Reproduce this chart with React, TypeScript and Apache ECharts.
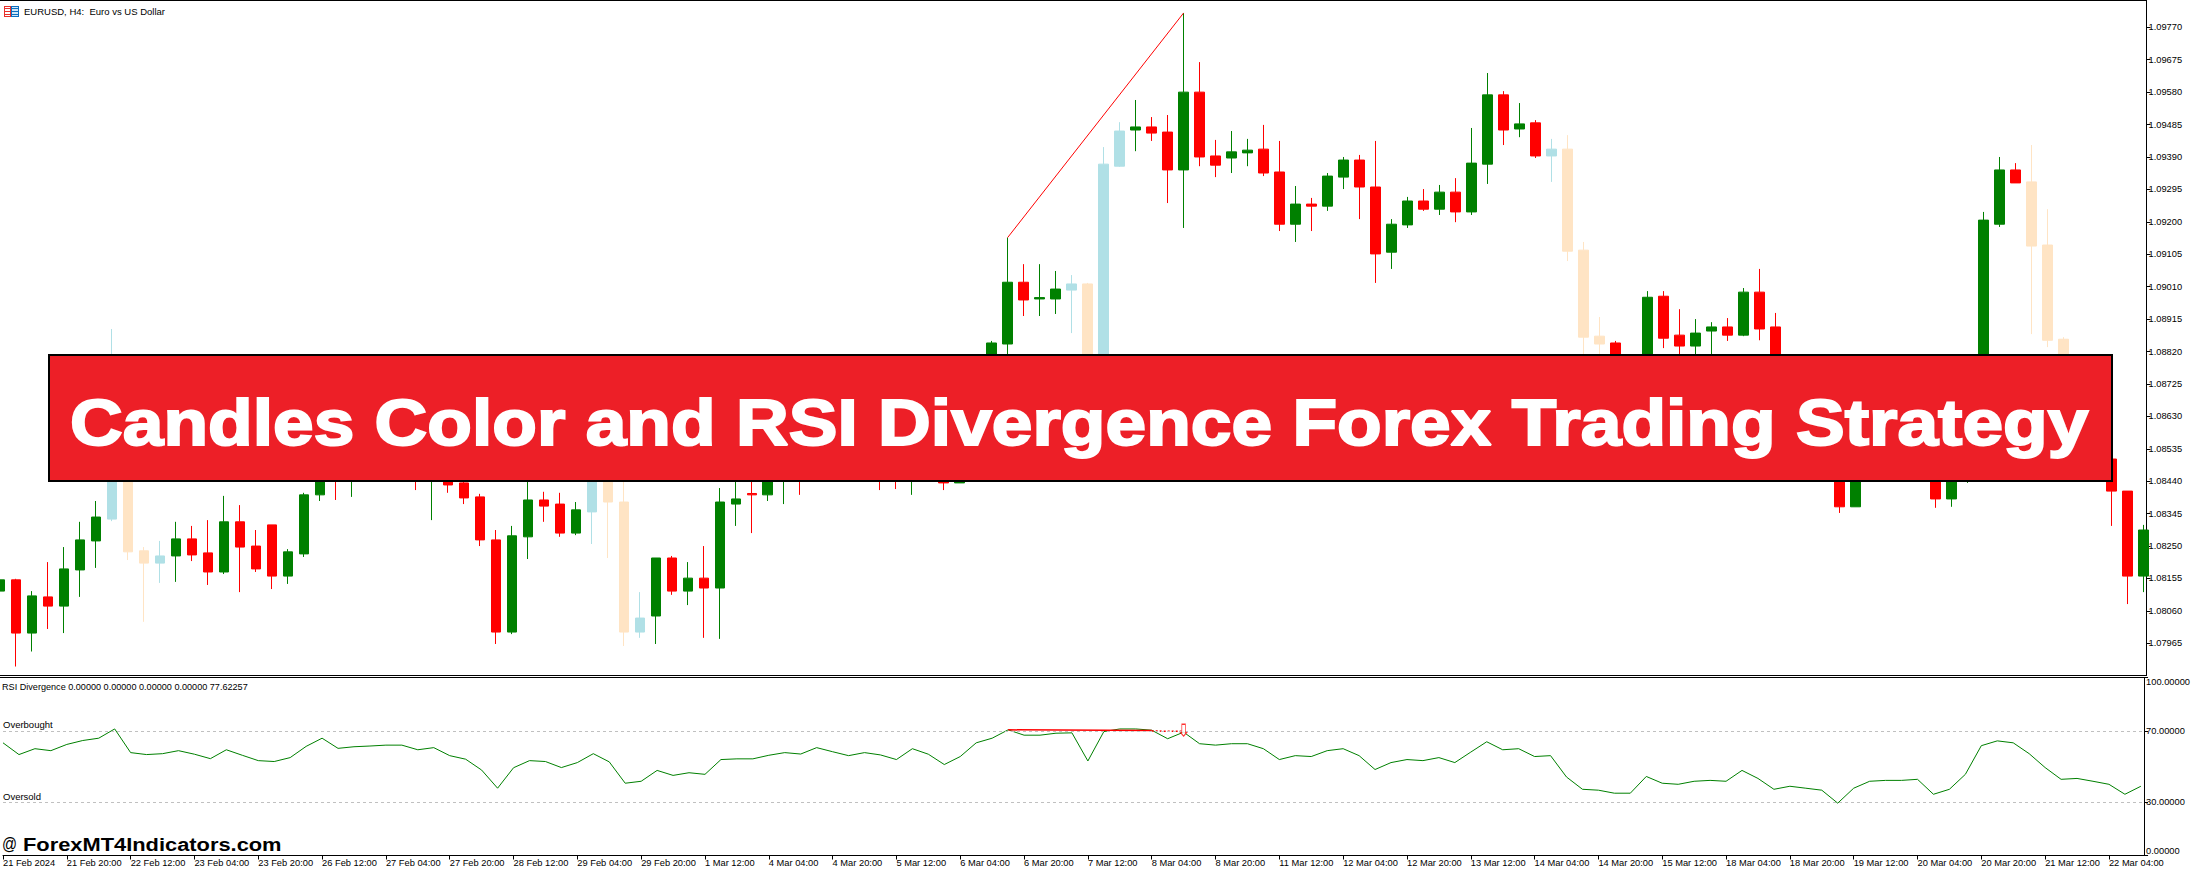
import { useEffect, useRef } from "react";
import * as echarts from "echarts";

const kinds = [
  "g","r","g","r","g","g","g","b","o","o",
  "b","g","r","r","g","r","r","r","g","g",
  "g","r","g","r","g","r","r","g","r","r",
  "r","r","g","g","r","r","g","b","o","o",
  "b","g","r","g","r","g","g","r","g","g",
  "r","g","r","g","r","r","r","g","r","r",
  "g","g","g","g","r","g","g","b","o","b",
  "b","g","r","r","g","r","r","g","g","r",
  "r","g","r","g","g","r","r","g","g","r",
  "g","r","g","g","r","g","r","b","o","o",
  "o","r","r","g","r","r","g","g","r","g",
  "r","r","r","g","r","r","g","g","r","g",
  "r","r","g","g","g","g","r","o","o","o",
  "o","r","r","r","g",
];

const opens = [1.08118,1.08151,1.07995,1.08101,1.08074,1.0818,1.08265,1.08329,1.08555,1.08236,1.082,1.08221,1.08271,1.0823,1.08174,1.08321,1.0825,1.08312,1.08162,1.08227,1.084,1.0856,1.0848,1.0856,1.0851,1.0857,1.0852,1.0847,1.0853,1.08435,1.08394,1.08268,1.07998,1.08277,1.08385,1.08373,1.08288,1.0835,1.0856,1.08379,1.07998,1.08045,1.08215,1.08118,1.08156,1.08127,1.08373,1.08404,1.084,1.0847,1.0852,1.0847,1.0851,1.0848,1.0853,1.0849,1.0848,1.08445,1.0849,1.08445,1.08435,1.0845,1.0852,1.08842,1.09023,1.08974,1.08974,1.09,1.09018,1.0868,1.09363,1.09469,1.09478,1.09463,1.09352,1.0958,1.09393,1.09387,1.09402,1.09413,1.09346,1.09193,1.09252,1.09246,1.09331,1.09381,1.09302,1.09111,1.09191,1.09261,1.09237,1.09287,1.09229,1.09369,1.09572,1.09472,1.0949,1.09393,1.09413,1.09117,1.08865,1.08845,1.0878,1.087,1.08982,1.08868,1.08836,1.0888,1.08892,1.08868,1.08994,1.08892,1.0876,1.0868,1.0872,1.0856,1.08365,1.0852,1.086,1.0854,1.0859,1.0853,1.08388,1.0851,1.0862,1.09193,1.09352,1.09317,1.09132,1.08856,1.0872,1.0862,1.08505,1.08411,1.08162];
const closes = [1.08151,1.07995,1.08104,1.08074,1.08183,1.08268,1.08335,1.08561,1.08233,1.082,1.08221,1.08271,1.08224,1.08174,1.08321,1.08247,1.08183,1.08162,1.08233,1.084,1.08546,1.0849,1.0856,1.0851,1.0857,1.0852,1.0847,1.0853,1.08429,1.08391,1.08268,1.07998,1.0828,1.08385,1.08367,1.08288,1.08356,1.0856,1.08379,1.07998,1.08039,1.08215,1.08118,1.08156,1.08127,1.08379,1.08388,1.084,1.0847,1.0852,1.0847,1.0851,1.0848,1.0853,1.0849,1.0845,1.08445,1.0849,1.0846,1.08435,1.0845,1.0851,1.08845,1.09023,1.08971,1.08978,1.09003,1.09018,1.087,1.09369,1.09466,1.09478,1.0946,1.09352,1.0958,1.0939,1.09366,1.09405,1.0941,1.09343,1.09193,1.09252,1.09246,1.09334,1.09381,1.09302,1.09106,1.09193,1.09261,1.09237,1.09287,1.09229,1.09372,1.09572,1.09469,1.09487,1.09393,1.09413,1.09114,1.08862,1.08842,1.0878,1.087,1.08979,1.08859,1.08836,1.08874,1.08892,1.08868,1.08994,1.08886,1.0876,1.0868,1.0872,1.0856,1.08365,1.0852,1.086,1.0854,1.0859,1.0853,1.08388,1.0851,1.0862,1.09205,1.09352,1.09314,1.09129,1.08853,1.0872,1.0862,1.08505,1.08411,1.08162,1.08297];
const lows = [1.08105,1.07897,1.07941,1.08007,1.07995,1.08101,1.08186,1.08323,1.08209,1.08028,1.08142,1.08145,1.08206,1.08136,1.08168,1.08115,1.08174,1.08124,1.08139,1.08218,1.08382,1.08385,1.08394,1.0846,1.0847,1.0847,1.08414,1.08326,1.08406,1.08373,1.0825,1.07963,1.07992,1.08212,1.08321,1.08277,1.08282,1.08256,1.08215,1.07957,1.07981,1.07963,1.08107,1.08077,1.07981,1.07978,1.08309,1.08288,1.08382,1.08373,1.084,1.0845,1.0845,1.0846,1.0846,1.08414,1.08417,1.084,1.08445,1.08414,1.08435,1.08445,1.085,1.0878,1.08924,1.08924,1.0893,1.08874,1.0866,1.0864,1.09361,1.09407,1.09437,1.09255,1.09182,1.09363,1.09331,1.09343,1.09363,1.09334,1.09173,1.09141,1.09173,1.09232,1.09296,1.09208,1.09021,1.09062,1.09182,1.09232,1.0922,1.09199,1.0922,1.09311,1.09425,1.09448,1.09387,1.09317,1.09085,1.0878,1.0879,1.0874,1.0866,1.0867,1.0883,1.0881,1.088,1.0879,1.08851,1.08865,1.08853,1.0872,1.0864,1.0865,1.0852,1.08347,1.08365,1.0849,1.085,1.0851,1.0849,1.08362,1.08365,1.08435,1.0859,1.09185,1.09314,1.08871,1.08833,1.0868,1.0858,1.0846,1.08309,1.0808,1.08115];
const highs = [1.0816,1.08154,1.08118,1.08203,1.08247,1.08321,1.08382,1.08886,1.086,1.08247,1.08265,1.08321,1.08309,1.08326,1.08397,1.0837,1.08297,1.08312,1.08241,1.08406,1.0858,1.086,1.0861,1.0862,1.0864,1.0862,1.0858,1.086,1.0859,1.0846,1.08403,1.08297,1.08309,1.0847,1.08409,1.08406,1.08379,1.086,1.086,1.0847,1.08115,1.08215,1.08221,1.08203,1.0825,1.0842,1.0846,1.0847,1.085,1.0856,1.0857,1.0855,1.0854,1.0857,1.0856,1.0852,1.0851,1.0852,1.0853,1.0849,1.0849,1.0856,1.08851,1.09154,1.09076,1.09076,1.09056,1.09044,1.09021,1.09419,1.09492,1.09557,1.09507,1.09513,1.09812,1.09668,1.0944,1.09466,1.09443,1.09484,1.09437,1.09305,1.0927,1.09343,1.0939,1.09396,1.09437,1.09208,1.09273,1.09296,1.09308,1.09328,1.09475,1.09636,1.09583,1.09548,1.09498,1.09443,1.09454,1.09141,1.08921,1.08851,1.088,1.08997,1.08997,1.08944,1.08915,1.08906,1.08918,1.09006,1.09062,1.08933,1.0879,1.0876,1.0875,1.086,1.0855,1.0864,1.0864,1.0863,1.0862,1.0857,1.0854,1.0866,1.09229,1.0939,1.09372,1.09425,1.09237,1.08862,1.0876,1.0866,1.0854,1.08411,1.08312];

const rsi = [63.3,56.7,60.0,58.9,62.4,64.6,65.9,71.1,57.8,56.7,57.2,58.9,56.9,54.4,59.4,56.3,53.3,52.8,55.0,61.3,65.9,60.2,61.1,61.5,62.0,62.0,59.4,60.6,56.1,54.1,48.0,37.8,49.3,53.3,52.8,49.4,52.2,57.2,52.6,40.6,41.7,47.8,45.0,46.5,45.6,53.9,
  54.3,54.3,56.3,57.8,57.0,60.6,58.3,56.1,57.8,56.5,53.9,60.0,56.9,51.1,55.6,63.3,65.9,70.6,67.6,67.6,68.7,68.9,53.1,69.6,71.1,71.1,70.4,65.6,69.3,62.8,62.0,62.8,62.8,60.0,53.9,56.1,55.6,58.9,60.0,56.1,48.3,52.2,53.9,53.3,55.0,52.2,
  58.1,63.9,59.4,60.0,55.6,56.1,44.1,37.2,36.7,35.0,35.0,44.4,40.6,40.0,41.7,42.2,41.7,47.8,43.3,37.2,38.9,37.8,36.7,29.4,37.8,41.7,42.2,42.2,42.8,34.4,37.2,45.6,61.7,64.4,63.3,57.2,49.4,42.8,43.3,41.7,40.0,34.4,38.9];

const priceTicks = [1.0977,1.09675,1.0958,1.09485,1.0939,1.09295,1.092,1.09105,1.0901,1.08915,1.0882,1.08725,1.0863,1.08535,1.0844,1.08345,1.0825,1.08155,1.0806,1.07965];
const rsiTicks = [0, 30, 70, 100];
const rsiLevels = [70, 30];
const dateTicks = [0,4,8,12,16,20,24,28,32,36,40,44,48,52,56,60,64,68,72,76,80,84,88,92,96,100,104,108,112,116,120,124,128,132];
const dateLabels = ["21 Feb 2024","21 Feb 20:00","22 Feb 12:00","23 Feb 04:00","23 Feb 20:00","26 Feb 12:00","27 Feb 04:00","27 Feb 20:00","28 Feb 12:00","29 Feb 04:00","29 Feb 20:00","1 Mar 12:00","4 Mar 04:00","4 Mar 20:00","5 Mar 12:00","6 Mar 04:00","6 Mar 20:00","7 Mar 12:00","8 Mar 04:00","8 Mar 20:00","11 Mar 12:00","12 Mar 04:00","12 Mar 20:00","13 Mar 12:00","14 Mar 04:00","14 Mar 20:00","15 Mar 12:00","18 Mar 04:00","18 Mar 20:00","19 Mar 12:00","20 Mar 04:00","20 Mar 20:00","21 Mar 12:00","22 Mar 04:00"];

const priceDivergence = [[63, 1.09154], [74, 1.09812]];
const rsiDivergenceSolid = [[63, 70.6], [72, 70.2]];
const rsiDivergenceDotted = [[72, 69.9], [74, 69.8]];
const rsiArrow = [[74, 70.4]];

const palette: Record<string, string> = { g: "#008000", r: "#FF0000", b: "#B0E0E6", o: "#FFE4C4" };
const smallFont = "Liberation Sans";

export default function App() {
  const ref = useRef<HTMLDivElement>(null);
  useEffect(() => {
    const chart = echarts.init(ref.current!, null, { renderer: "svg" });
    const candles = opens.map((o, i) => {
      const c = palette[kinds[i]];
      return {
        value: [i, o, closes[i], lows[i], highs[i]],
        itemStyle: { color: c, color0: c, borderColor: c, borderColor0: c, borderColorDoji: c, borderWidth: 1 },
      };
    });
    const gridWidth = 2146.5;
    const xMax = 134.2;
    const axisText = { fontFamily: smallFont, fontSize: 9.3, color: "#000" };
    const small = (x: number, y: number, text: string, size = 9.5) => ({
      type: "text", x, y, silent: true, z: 50,
      style: { text, fill: "#000", font: `${size}px "${smallFont}"`, textAlign: "left", textVerticalAlign: "middle" },
    });
    const iconRect = (x: number, y: number, w: number, h: number, fill: string) => ({
      type: "rect", silent: true, z: 50, shape: { x, y, width: w, height: h }, style: { fill },
    });
    chart.setOption({
      animation: false,
      backgroundColor: "#fff",
      grid: [
        { left: 0, top: 0.5, width: gridWidth, height: 675, show: false },
        { left: 0, top: 677.5, width: gridWidth, height: 178, show: false },
      ],
      xAxis: [
        { type: "value", gridIndex: 0, min: 0, max: xMax, show: false, splitLine: { show: false } },
        {
          type: "value", gridIndex: 1, min: 0, max: xMax, splitLine: { show: false },
          axisLine: { show: true, lineStyle: { color: "#000" } },
          axisTick: { show: true, length: 4, lineStyle: { color: "#000" }, customValues: dateTicks },
          axisLabel: {
            ...axisText, margin: 3, align: "left", hideOverlap: false, customValues: dateTicks,
            formatter: (v: number) => dateLabels[dateTicks.indexOf(Math.round(v))] ?? "",
          },
        },
      ],
      yAxis: [
        {
          type: "value", gridIndex: 0, position: "right", min: 1.078707, max: 1.098485, splitLine: { show: false },
          axisLine: { show: true, onZero: false, lineStyle: { color: "#000" } },
          axisTick: { show: true, length: 4, lineStyle: { color: "#000" }, customValues: priceTicks },
          axisLabel: { ...axisText, margin: 2, align: "left", customValues: priceTicks, formatter: (v: number) => v.toFixed(5) },
        },
        {
          type: "value", gridIndex: 1, position: "right", min: 0, max: 100, splitLine: { show: false },
          axisLine: { show: true, onZero: false, lineStyle: { color: "#000" } },
          axisTick: { show: true, length: 4, lineStyle: { color: "#000" }, customValues: rsiTicks },
          axisLabel: {
            ...axisText, margin: 2, align: "left", customValues: rsiTicks,
            verticalAlignMaxLabel: "top", verticalAlignMinLabel: "bottom",
            formatter: (v: number) => v.toFixed(5),
          },
        },
      ],
      series: [
        { type: "candlestick", xAxisIndex: 0, yAxisIndex: 0, barWidth: 10, data: candles, clip: true },
        {
          type: "line", xAxisIndex: 0, yAxisIndex: 0, data: priceDivergence, showSymbol: false, symbol: "none",
          lineStyle: { color: "#FF0000", width: 1 }, silent: true, z: 3,
        },
        {
          type: "line", xAxisIndex: 1, yAxisIndex: 1, data: rsi.map((v, i) => [i, v]), showSymbol: false, symbol: "none",
          lineStyle: { color: "#008000", width: 1 }, silent: true, z: 3,
          markLine: {
            silent: true, symbol: ["none", "none"], animation: false, label: { show: false },
            lineStyle: { color: "#c0c0c0", type: [3, 3], width: 1 },
            data: rsiLevels.map((v) => ({ yAxis: v })),
          },
        },
        {
          type: "line", xAxisIndex: 1, yAxisIndex: 1, data: rsiDivergenceSolid, showSymbol: false, symbol: "none",
          lineStyle: { color: "#FF0000", width: 1.5 }, silent: true, z: 4,
        },
        {
          type: "line", xAxisIndex: 1, yAxisIndex: 1, data: rsiDivergenceDotted, showSymbol: false, symbol: "none",
          lineStyle: { color: "#FF0000", width: 1.5, type: [2, 2] }, silent: true, z: 4,
        },
        {
          type: "scatter", xAxisIndex: 1, yAxisIndex: 1, data: rsiArrow, silent: true, z: 5,
          symbol: "path://M2 0H8V12H10L5 17L0 12H2Z", symbolSize: [6, 12],
          itemStyle: { color: "#fff", borderColor: "#FF0000", borderWidth: 1 },
        },
      ],
      graphic: [
        iconRect(0, 0, 2147, 1, "#000"),
        iconRect(0, 675, 2147, 1, "#000"),
        iconRect(0, 677, 2147, 1, "#000"),
        iconRect(4, 6, 7, 11, "#E8302A"),
        iconRect(11, 6, 8, 11, "#0A6EC0"),
        iconRect(5, 7, 5, 9, "#fff"),
        iconRect(12, 7, 6, 9, "#CFE6F7"),
        iconRect(5, 8, 5, 1, "#E8302A"),
        iconRect(5, 11, 5, 1, "#E8302A"),
        iconRect(5, 14, 5, 1, "#E8302A"),
        iconRect(12, 8, 6, 1, "#0A6EC0"),
        iconRect(12, 11, 6, 1, "#0A6EC0"),
        iconRect(12, 14, 6, 1, "#0A6EC0"),
        small(24, 11.5, "EURUSD, H4:  Euro vs US Dollar"),
        small(2, 687, "RSI Divergence 0.00000 0.00000 0.00000 0.00000 77.62257", 9.1),
        small(3, 724.5, "Overbought"),
        small(3, 796.5, "Oversold"),
        {
          type: "text", x: 2, y: 844, scaleX: 0.78, silent: true, z: 60,
          style: { text: "@", fill: "#000", font: `19px "Liberation Sans"`, textAlign: "left", textVerticalAlign: "middle" },
        },
        {
          type: "text", x: 23, y: 844, scaleX: 1.15, silent: true, z: 60,
          style: { text: "ForexMT4Indicators.com", fill: "#000", font: `bold 19px "Liberation Sans"`, textAlign: "left", textVerticalAlign: "middle" },
        },
        {
          type: "rect", silent: true, z: 100,
          shape: { x: 49, y: 355, width: 2063, height: 126 },
          style: { fill: "#ED1F27", stroke: "#000", lineWidth: 2 },
        },
        {
          type: "text", x: 70, y: 423, scaleX: 1.142, silent: true, z: 101,
          style: {
            text: "Candles Color and RSI Divergence Forex Trading Strategy", fill: "#fff", stroke: "#fff", lineWidth: 2,
            font: `bold 64px "Liberation Sans"`, textAlign: "left", textVerticalAlign: "middle",
          },
        },
      ],
    });
    return () => chart.dispose();
  }, []);
  return <div ref={ref} style={{ position: "absolute", left: 0, top: 0, width: 2193, height: 872 }} />;
}
